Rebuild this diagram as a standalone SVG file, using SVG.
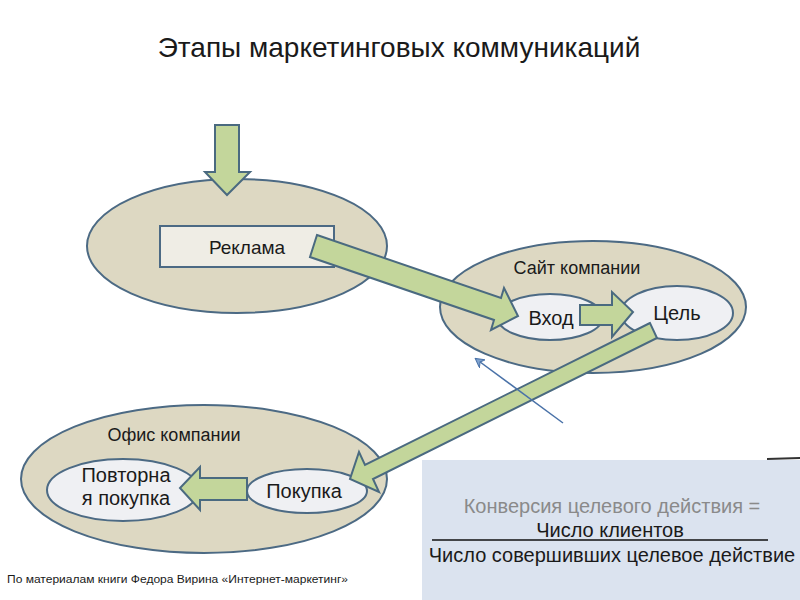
<svg xmlns="http://www.w3.org/2000/svg" width="800" height="600" viewBox="0 0 800 600">
<style>
text{font-family:"Liberation Sans",Arial,sans-serif;fill:#1a1a1a}
.outer{fill:#ddd8c2;stroke:#4c6a84;stroke-width:2}
.inner{fill:#eff0f3;stroke:#4c6a84;stroke-width:2}
.arr{fill:#c3d69b;stroke:#4a6a80;stroke-width:2;stroke-linejoin:miter}
.lbl{font-size:20px;text-anchor:middle}
.sm{font-size:18px}
.frm{font-size:20px;text-anchor:middle}
</style>
<defs>
<marker id="ah" markerWidth="10" markerHeight="10" refX="8" refY="5" orient="auto" markerUnits="userSpaceOnUse">
<path d="M0,0 L9,5 L0,10 L3,5 Z" fill="#7fa3cf" stroke="#4a72a8" stroke-width="1"/>
</marker>
</defs>
<rect width="800" height="600" fill="#ffffff"/>
<text x="399" y="57" font-size="28" text-anchor="middle">Этапы маркетинговых коммуникаций</text>

<g id="reklama-area">
<ellipse class="outer" cx="237" cy="246" rx="150" ry="67"/>
<rect x="160" y="226" width="174" height="41" fill="#efede5" stroke="#4c6a84" stroke-width="2"/>
<text class="lbl" x="247" y="254" style="font-size:19px">Реклама</text>
</g>

<g id="site-area">
<ellipse class="outer" cx="593" cy="307" rx="153" ry="66"/>
<text class="lbl sm" x="577" y="274">Сайт компании</text>
</g>
<g id="vhod">
<ellipse class="inner" cx="550" cy="317" rx="53" ry="23"/>
<text class="lbl" x="551" y="325">Вход</text>
</g>
<g id="cel">
<ellipse class="inner" cx="677" cy="313" rx="56" ry="27"/>
<text class="lbl" x="677" y="320">Цель</text>
</g>

<g id="office-area">
<ellipse class="outer" cx="204" cy="479" rx="183" ry="74"/>
<text class="lbl sm" x="174" y="441">Офис компании</text>
</g>
<g id="povtornaya">
<ellipse class="inner" cx="123" cy="490" rx="76" ry="31"/>
<text class="lbl" x="126" y="482">Повторна</text>
<text class="lbl" x="126" y="505">я покупка</text>
</g>
<g id="pokupka">
<ellipse class="inner" cx="307" cy="491" rx="60" ry="22"/>
<text class="lbl" x="304" y="498">Покупка</text>
</g>

<g id="connectors">
<polygon class="arr" points="215,125 239,125 239,172 250,172 227,195 205,172 215,172"/>
<polygon class="arr" points="317,235 501,298 504,288 518,316 491,330 494,320 310,257"/>
<polygon class="arr" points="580,305 612,305 612,292 633,312 612,337 612,325 580,325"/>
<polygon class="arr" points="650,323 365,465 359,452 350,479 379,492 373,479 657,338"/>
<polygon class="arr" points="247,478 200,478 200,467 180,488 200,510 200,500 247,500"/>
<line x1="563" y1="423" x2="476" y2="359" stroke="#4a72a8" stroke-width="1.5" marker-end="url(#ah)"/>
</g>

<g id="formula">
<rect x="422" y="460" width="378" height="140" fill="#dbe3ef"/>
<line x1="767" y1="459" x2="800" y2="458" stroke="#333" stroke-width="2"/>
<text class="frm" x="612" y="513" style="fill:#8a8a8a">Конверсия  целевого действия =</text>
<text class="frm" x="610" y="537">Число клиентов</text>
<line x1="432" y1="540" x2="768" y2="540" stroke="#111" stroke-width="1.5"/>
<text class="frm" x="612" y="562">Число совершивших целевое действие</text>
</g>

<text x="7" y="583" font-size="10" textLength="341" lengthAdjust="spacingAndGlyphs">По материалам книги Федора Вирина «Интернет-маркетинг»</text>
</svg>
